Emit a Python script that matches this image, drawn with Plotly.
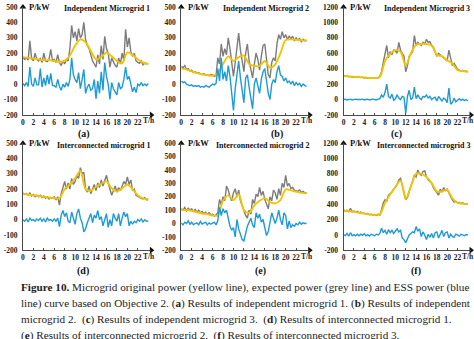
import plotly.graph_objects as go

W, H = 474, 339

# time grids: 20-minute samples and hourly samples over one day
t_fine = [round(i / 3, 4) for i in range(73)]
t_hour = list(range(25))

# ---------------- (a) independent microgrid 1 ----------------
grey_a = [175, 160, 170, 155, 280, 165, 150, 200, 160,
          150, 165, 140, 200, 150, 145, 160, 225, 150,
          160, 140, 190, 140, 120, 150, 130, 160, 150,
          230, 380, 300, 340, 280, 360, 300, 320, 400,
          290, 250, 230, 190, 150, 130, 110, 190, 130,
          250, 160, 310, 230, 200, 110, 170, 140, 120,
          110, 170, 130, 200, 150, 355, 240, 300, 210,
          180, 200, 150, 140, 135, 150, 125, 135, 130,
          130]
yellow_a = [175, 170, 165, 160, 155, 155, 150, 145, 150, 185, 250, 290, 270,
            215, 160, 175, 205, 180, 150, 135, 205, 190, 160, 140, 130]
blue_a = [5, -10, 10, -15, 110, 0, -15, 40, -5,
          -5, 100, -20, 40, -10, 60, 0, 70, -10,
          -10, -20, 30, -15, -40, 0, -20, 10, -15,
          30, 170, 60, 30, 10, 75, -30, 30, 95,
          -60, -20, 0, -40, -30, 30, -95, 20, -60,
          80, -40, 140, 50, 0, -100, 10, -30, -50,
          -70, 10, -30, -20, 30, 110, 30, 50, 0,
          -50, -20, -55, 0, -10, 10, -10, 0, -10,
          5]

# ---------------- (b) independent microgrid 2 ----------------
grey_b = [115, 105, 120, 95, 100, 85, 90, 75, 80,
          70, 75, 65, 62, 68, 58, 60, 55, 62,
          60, 50, 55, 170, 130, 260, 180, 230, 190,
          300, 230, 120, 50, 140, 260, 330, 220, 160,
          80, 200, 260, 150, 80, 40, 130, 200, 160,
          90, 180, 250, 260, 150, 60, 40, 140, 170,
          150, 260, 320, 290, 340, 300, 320, 290, 310,
          295, 310, 280, 300, 285, 295, 275, 290, 280,
          285]
yellow_b = [100, 95, 82, 72, 63, 58, 54, 70, 130, 180, 150, 175, 185,
            130, 118, 118, 150, 106, 128, 200, 285, 290, 287, 284, 282]
blue_b = [20, 10, 15, 0, -5, -10, -5, -15, -10,
          -15, -10, -20, -15, -20, -10, -15, -20, -10,
          0, -5, 5, 100, 20, 170, 30, 80, 20,
          120, 50, -60, -170, -30, 80, 150, 40, -50,
          -120, 40, 60, -20, -80, -160, 0, 40, -10,
          -60, 30, 80, 100, 10, -60, -100, 0, 30,
          10, 80, 120, 60, 50, 20, 40, 10, 20,
          0, 20, -10, 10, -5, 5, -15, 0, -10,
          -15]

# ---------------- (c) independent microgrid 3 ----------------
grey_c = [310, 300, 305, 295, 300, 290, 295, 290, 300,
          290, 285, 290, 280, 285, 275, 280, 278, 282,
          275, 285, 280, 300, 360, 480, 580, 700, 540,
          620, 580, 640, 630, 600, 740, 640, 600, 560,
          360, 440, 560, 600, 620, 830, 700, 740, 720,
          700, 740, 720, 780, 740, 750, 700, 680, 620,
          560, 600, 580, 550, 540, 510, 500, 640, 520,
          440, 470, 420, 390, 380, 370, 375, 365, 370,
          355]
yellow_c = [305, 300, 295, 290, 285, 280, 280, 290, 500, 590, 640, 620, 440,
            600, 710, 720, 720, 700, 580, 560, 510, 470, 380, 370, 360]
blue_c = [0, 5, -5, 0, 5, -5, 0, 5, 0,
          -5, 0, 5, -5, 0, 5, -5, 0, 5,
          0, -5, 5, 10, 60, 30, 90, 200, 40,
          20, 70, -10, 10, 60, 20, 0, 40, 30,
          -180, 40, 120, 0, 20, 160, 10, 60, 20,
          0, 40, 30, 60, 20, 40, 0, 20, 30,
          -20, 40, 10, -20, 20, 0, -40, 150, -60,
          -40, 20, -30, -10, 10, -10, 5, -15, 0,
          -20]

# ---------------- (d) interconnected microgrid 1 ----------------
grey_d = [175, 165, 170, 160, 175, 155, 165, 150, 160,
          150, 160, 145, 155, 140, 150, 135, 145, 140,
          150, 130, 150, 95, 170, 210, 250, 200, 240,
          200, 270, 230, 250, 290, 270, 340, 300, 310,
          200, 180, 220, 170, 200, 230, 190, 240, 210,
          260, 220, 250, 290, 240, 200, 160, 190, 220,
          180, 210, 190, 220, 250, 230, 280, 230, 260,
          190, 200, 160, 150, 145, 140, 135, 145, 130,
          130]
yellow_d = [170, 165, 160, 155, 150, 145, 140, 140, 200, 230, 270, 320, 200,
            188, 215, 235, 250, 205, 185, 205, 230, 200, 160, 140, 135]
blue_d = [0, -10, 5, -15, 10, -5, 0, -10, 5,
          -5, 10, -10, 5, -15, 10, -5, 0, -10,
          5, -10, 10, -45, 30, 60, 20, 45, -10,
          -20, 50, 10, -30, 40, 70, 10, -20, -80,
          -60, -20, 10, 40, -20, 30, 10, 60, 0,
          20, -40, 10, 40, -50, 0, -40, 40, 10,
          -10, 40, -40, 10, 50, 20, 40, -40, -10,
          -30, -10, -20, 0, -10, 5, -15, 0, -10,
          -10]

# ---------------- (e) interconnected microgrid 2 ----------------
grey_e = [110, 100, 120, 95, 115, 100, 110, 90, 105,
          85, 100, 80, 90, 75, 85, 70, 80, 65,
          70, 55, 65, 80, 180, 140, 200, 170, 280,
          250, 200, 170, 230, 260, 200, 250, 170, 130,
          90, 60, 40, 100, 70, 180, 150, 220, 200,
          270, 210, 240, 180, 150, 110, 200, 170, 250,
          230, 180, 260, 210, 300, 270, 360, 280, 300,
          260, 270, 250, 245, 240, 250, 235, 240, 230,
          230]
yellow_e = [105, 100, 95, 85, 75, 70, 60, 60, 170, 210, 175, 220, 100,
            80, 135, 170, 190, 160, 150, 175, 255, 248, 238, 230, 225]
blue_e = [5, -10, 10, 0, 20, -5, 10, -10, 0,
          5, -10, 15, -5, 0, 10, -10, 5, -5,
          0, 10, -10, 20, 120, 60, 110, 80, 100,
          30, -20, -50, -30, -100, 30, -40, -80, -120,
          -130, -60, -20, 10, 40, -10, -30, 80, 40,
          70, 10, 30, -40, -90, -60, 10, 80, 40,
          0, 40, 100, 30, -10, 80, 60, -40, 20,
          -30, -10, -20, 0, -10, 10, -5, 5, 0,
          0]

# ---------------- (f) interconnected microgrid 3 ----------------
grey_f = [330, 310, 325, 305, 350, 300, 315, 295, 310,
          290, 300, 280, 285, 275, 280, 265, 270, 260,
          265, 255, 270, 260, 330, 420, 460, 440, 520,
          540, 560, 600, 620, 660, 720, 740, 650, 560,
          460, 490, 580, 640, 700, 780, 760, 850, 800,
          780, 830, 840, 760, 720, 700, 680, 620, 580,
          560, 520, 600, 560, 620, 580, 600, 540, 500,
          460, 430, 440, 420, 425, 410, 420, 405, 410,
          400]
yellow_f = [320, 310, 305, 290, 280, 270, 265, 270, 420, 530, 630, 710, 470,
            640, 800, 800, 760, 680, 570, 570, 590, 480, 420, 410, 405]
blue_f = [0, -10, 20, -15, 30, -10, 5, -10, 10,
          -10, 10, -5, 15, -10, 5, -15, 10, 0,
          -10, 10, 0, 20, 90, 30, 60, 10, 70,
          30, 60, 20, 50, 80, 40, 60, -40, -60,
          -100, -40, 0, 20, 40, 30, 110, 50, 80,
          -20, 40, 0, -60, 10, -30, 20, -40, 30,
          40, -40, 20, 60, -20, 30, 40, -40, 10,
          -20, -30, 10, 0, -15, 10, 0, -10, 5,
          0]

x_ticks = list(range(0, 23, 2))

panels = [
    dict(grey=grey_a, yellow=yellow_a, blue=blue_a, yr=(-200, 500), dt=100,
         title="Independent Microgrid 1", tag="(a)", col=0, row=0, tag_x=82),
    dict(grey=grey_b, yellow=yellow_b, blue=blue_b, yr=(-200, 500), dt=100,
         title="Independent Microgrid 2", tag="(b)", col=1, row=0, tag_x=276),
    dict(grey=grey_c, yellow=yellow_c, blue=blue_c, yr=(-200, 1200), dt=200,
         title="Independent Microgrid 3", tag="(c)", col=2, row=0, tag_x=396),
    dict(grey=grey_d, yellow=yellow_d, blue=blue_d, yr=(-200, 500), dt=100,
         title="Interconnected microgrid 1", tag="(d)", col=0, row=1, tag_x=81),
    dict(grey=grey_e, yellow=yellow_e, blue=blue_e, yr=(-200, 600), dt=100,
         title="Interconnected microgrid 2", tag="(e)", col=1, row=1, tag_x=260),
    dict(grey=grey_f, yellow=yellow_f, blue=blue_f, yr=(-200, 1200), dt=200,
         title="Interconnected microgrid 3", tag="(f)", col=2, row=1, tag_x=416),
]

# pixel extents of the plotting areas
col_px = [(21, 150), (180, 309), (343, 471)]
row_px = [(3, 114), (143, 253)]
row_tag_y = [134, 274]

X_MAX = 24.6
AXIS_COLOR = "#4a4a4a"
SERIF = "Liberation Serif"
GREY = "#7c7c7c"
YELLOW = "#F4C300"
BLUE = "#1E9BD7"


def px_x(p):
    return p / W


def px_y(p):
    return 1 - p / H


fig = go.Figure()
annotations = []
layout_axes = {}

for i, p in enumerate(panels):
    n = "" if i == 0 else str(i + 1)
    xref, yref = "x" + n, "y" + n
    x0, x1 = col_px[p["col"]]
    y0, y1 = row_px[p["row"]]

    fig.add_trace(go.Scatter(x=t_fine, y=p["grey"], mode="lines", xaxis=xref, yaxis=yref,
                             line=dict(color=GREY, width=1.4), name="Expected power"))
    fig.add_trace(go.Scatter(x=t_hour, y=p["yellow"], mode="lines", xaxis=xref, yaxis=yref,
                             line=dict(color=YELLOW, width=1.9, shape="spline", smoothing=0.8),
                             name="Original power"))
    fig.add_trace(go.Scatter(x=t_fine, y=p["blue"], mode="lines", xaxis=xref, yaxis=yref,
                             line=dict(color=BLUE, width=1.4), name="ESS power"))

    lo, hi = p["yr"]
    # arrow heads at the ends of both axes
    fig.add_trace(go.Scatter(x=[0], y=[hi], mode="markers", xaxis=xref, yaxis=yref,
                             marker=dict(symbol="triangle-up", size=6, color="#111"),
                             cliponaxis=False, hoverinfo="skip"))
    fig.add_trace(go.Scatter(x=[X_MAX], y=[lo], mode="markers", xaxis=xref, yaxis=yref,
                             marker=dict(symbol="triangle-right", size=6, color="#111"),
                             cliponaxis=False, hoverinfo="skip"))

    y_ticks = list(range(lo, hi + 1, p["dt"]))
    tickfont = dict(family=SERIF, size=7.5, color="#222", weight="bold")
    layout_axes["xaxis" + n] = dict(
        domain=[px_x(x0), px_x(x1)], range=[0, X_MAX], anchor=yref,
        showgrid=False, zeroline=False, showline=True, linecolor=AXIS_COLOR, linewidth=1,
        tickvals=x_ticks, ticktext=[str(v) for v in x_ticks], tickfont=tickfont,
        ticks="inside", ticklen=2, tickcolor=AXIS_COLOR, ticklabelstandoff=0)
    layout_axes["yaxis" + n] = dict(
        domain=[px_y(y1), px_y(y0)], range=[lo, hi], anchor=xref,
        showgrid=False, zeroline=False, showline=True, linecolor=AXIS_COLOR, linewidth=1,
        tickvals=y_ticks, ticktext=[str(v) for v in y_ticks],
        tickfont=tickfont, ticks="", ticklabelstandoff=3)

    annotations.append(dict(text="<b>P/kW</b>", xref=xref + " domain", yref=yref + " domain",
                            x=0.035, y=1.0, xanchor="left", yanchor="middle", showarrow=False,
                            font=dict(family=SERIF, size=8.5, color="#111")))
    annotations.append(dict(text="<b>" + p["title"] + "</b>", xref="paper", yref="paper",
                            x=px_x(x1 + 1), y=px_y(y0 + 2), xanchor="right", yanchor="middle",
                            showarrow=False, font=dict(family=SERIF, size=8, color="#111")))
    annotations.append(dict(text="<b>T/h</b>", xref=xref, yref="paper", x=24.1,
                            y=px_y(y1 + 6), xanchor="center", yanchor="middle", showarrow=False,
                            font=dict(family=SERIF, size=7.5, color="#222")))
    annotations.append(dict(text="<b>" + p["tag"] + "</b>", xref="paper", yref="paper",
                            x=px_x(p["tag_x"]), y=px_y(row_tag_y[p["row"]]), xanchor="center",
                            yanchor="middle", showarrow=False,
                            font=dict(family=SERIF, size=10, color="#111")))

caption = [
    "<b>Figure 10.</b> Microgrid original power (yellow line), expected power (grey line) and ESS power (blue",
    "line) curve based on Objective 2. (<b>a</b>) Results of independent microgrid 1. (<b>b</b>) Results of independent",
    "microgrid 2.  (<b>c</b>) Results of independent microgrid 3.  (<b>d</b>) Results of interconnected microgrid 1.",
    "(<b>e</b>) Results of interconnected microgrid 2.  (<b>f</b>) Results of interconnected microgrid 3.",
]
for k, line in enumerate(caption):
    annotations.append(dict(text=line, xref="paper", yref="paper", x=px_x(17),
                            y=px_y(291 + 16.5 * k), xanchor="left", yanchor="middle",
                            showarrow=False, font=dict(family=SERIF, size=11.2, color="#222")))

fig.update_layout(
    width=W, height=H, margin=dict(l=0, r=0, t=0, b=0),
    paper_bgcolor="white", plot_bgcolor="white", showlegend=False,
    annotations=annotations, **layout_axes)

fig.write_html("out.html")
